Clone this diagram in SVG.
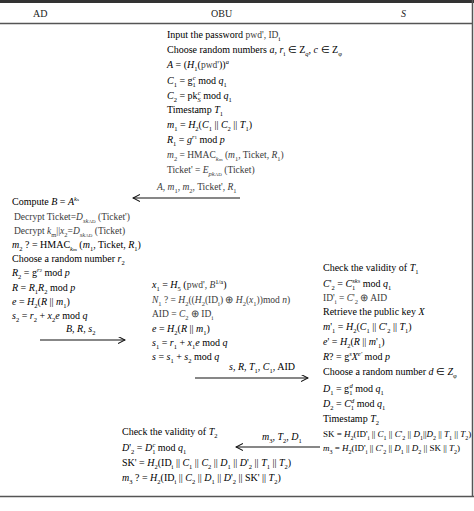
<svg xmlns="http://www.w3.org/2000/svg" width="474" height="511" viewBox="0 0 474 511">
<style>
text { font-family: "Liberation Serif", "Times New Roman", serif; font-size: 10px; fill: #000; }
.l { fill: #3a3a3a; font-size: 9.5px; }
.i { font-style: italic; }
.b { font-size: 6.5px; baseline-shift: -2.5px; }
.p { font-size: 6.5px; baseline-shift: 4px; }
.sm { font-size: 9px; }
.sm .b { font-size: 6px; }
.hdr { font-size: 10px; fill: #222; }
.rule { stroke: #555; stroke-width: 1.5; fill: none; }
.arrow { stroke: #111; stroke-width: 1.1; fill: none; marker-end: url(#ah); }
</style>
<defs>
<marker id="ah" markerWidth="8" markerHeight="8" refX="7" refY="3.5" orient="auto" markerUnits="userSpaceOnUse">
<path d="M0,0 L7,3.5 L0,7" fill="none" stroke="#111" stroke-width="1.1"/>
</marker>
</defs>
<rect x="0" y="0" width="474" height="511" fill="#fff"/>
<g id="frame">
<line x1="0" y1="1.5" x2="474" y2="1.5" stroke="#333" stroke-width="3"/>
<line class="rule" x1="0" y1="23.5" x2="472" y2="23.5"/>
<line class="rule" x1="472.5" y1="0" x2="472.5" y2="497"/>
<line class="rule" x1="0" y1="496.5" x2="474" y2="496.5"/>
<text class="hdr" x="33" y="17">AD</text>
<text class="hdr" x="211" y="17">OBU</text>
<text class="hdr i" x="401" y="17">S</text>
</g>
<g id="obu-login">
<text x="167" y="38">Input the password <tspan class="l">pwd', ID</tspan><tspan class="b">i</tspan></text>
<text x="167" y="53">Choose random numbers  <tspan class="i">a</tspan>, <tspan class="i">r</tspan><tspan class="b">i</tspan> ∈ Z<tspan class="b i">q</tspan>, <tspan class="i">c</tspan> ∈ Z<tspan class="b">φ</tspan></text>
<text x="167" y="68"><tspan class="i">A</tspan> = (<tspan class="i">H</tspan><tspan class="b">1</tspan>(<tspan class="l">pwd'</tspan>))<tspan class="p i">a</tspan></text>
<text x="167" y="84"><tspan class="i">C</tspan><tspan class="b">1</tspan> = g<tspan class="b">1</tspan><tspan class="p i" dx="-3">c</tspan> mod <tspan class="i">q</tspan><tspan class="b">1</tspan></text>
<text x="167" y="99"><tspan class="i">C</tspan><tspan class="b">2</tspan> = pk<tspan class="b i">S</tspan><tspan class="p i" dx="-3">c</tspan> mod <tspan class="i">q</tspan><tspan class="b">1</tspan></text>
<text x="167" y="113">Timestamp  <tspan class="i">T</tspan><tspan class="b">1</tspan></text>
<text x="167" y="128"><tspan class="i">m</tspan><tspan class="b">1</tspan> = <tspan class="i">H</tspan><tspan class="b">2</tspan>(<tspan class="i">C</tspan><tspan class="b">1</tspan> || <tspan class="i">C</tspan><tspan class="b">2</tspan> || <tspan class="i">T</tspan><tspan class="b">1</tspan>)</text>
<text x="167" y="143"><tspan class="i">R</tspan><tspan class="b">1</tspan> = <tspan class="i">g</tspan><tspan class="p i">r</tspan><tspan class="p" style="font-size:5px">1</tspan> mod <tspan class="i">p</tspan></text>
<text class="l" x="167" y="158"><tspan class="i">m</tspan><tspan class="b">2</tspan> = HMAC<tspan class="b i">k</tspan><tspan class="b" style="font-size:5px">m</tspan> (<tspan class="i">m</tspan><tspan class="b">1</tspan>, Ticket, <tspan class="i">R</tspan><tspan class="b">1</tspan>)</text>
<text class="l" x="167" y="173">Ticket' = <tspan class="i">E</tspan><tspan class="b i">pk</tspan><tspan class="b" style="font-size:5px">AD</tspan> (Ticket)</text>
</g>
<g id="ad-response">
<text x="12" y="205">Compute  <tspan class="i">B</tspan> = <tspan class="i">A</tspan><tspan class="p i">k</tspan><tspan class="p" style="font-size:5px">s</tspan></text>
<text class="l" x="14" y="219.5">Decrypt Ticket=<tspan class="i">D</tspan><tspan class="b i">sk</tspan><tspan class="b" style="font-size:5px">AD</tspan> (Ticket')</text>
<text class="l" x="14" y="234">Decrypt <tspan class="i">k</tspan><tspan class="b">m</tspan>||<tspan class="i">x</tspan><tspan class="b">2</tspan>=<tspan class="i">D</tspan><tspan class="b i">sk</tspan><tspan class="b" style="font-size:5px">AD</tspan> (Ticket)</text>
<text x="12" y="248"><tspan class="i">m</tspan><tspan class="b">2</tspan> ? = HMAC<tspan class="b i">k</tspan><tspan class="b" style="font-size:5px">m</tspan> (<tspan class="i">m</tspan><tspan class="b">1</tspan>, Ticket, <tspan class="i">R</tspan><tspan class="b">1</tspan>)</text>
<text x="12" y="262">Choose a random number  <tspan class="i">r</tspan><tspan class="b">2</tspan></text>
<text x="12" y="276"><tspan class="i">R</tspan><tspan class="b">2</tspan> = g<tspan class="p i">r</tspan><tspan class="p" style="font-size:5px">2</tspan> mod <tspan class="i">p</tspan></text>
<text x="12" y="290.5"><tspan class="i">R</tspan> = <tspan class="i">R</tspan><tspan class="b">1</tspan><tspan class="i">R</tspan><tspan class="b">2</tspan> mod <tspan class="i">p</tspan></text>
<text x="12" y="305"><tspan class="i">e</tspan> = <tspan class="i">H</tspan><tspan class="b">2</tspan>(<tspan class="i">R</tspan> || <tspan class="i">m</tspan><tspan class="b">1</tspan>)</text>
<text x="12" y="319"><tspan class="i">s</tspan><tspan class="b">2</tspan> = <tspan class="i">r</tspan><tspan class="b">2</tspan> + <tspan class="i">x</tspan><tspan class="b">2</tspan><tspan class="i">e</tspan>  mod <tspan class="i">q</tspan></text>
</g>
<g id="obu-sign">
<text x="152" y="288"><tspan class="i">x</tspan><tspan class="b">1</tspan> = <tspan class="i">H</tspan><tspan class="b">5</tspan> (<tspan class="l">pwd', </tspan><tspan class="i l">B</tspan><tspan class="p">1/a</tspan>)</text>
<text class="l" x="152" y="303"><tspan class="i">N</tspan><tspan class="b">1</tspan> ? = <tspan class="i">H</tspan><tspan class="b">2</tspan>((<tspan class="i">H</tspan><tspan class="b">2</tspan>(ID<tspan class="b">i</tspan>) ⊕ <tspan class="i">H</tspan><tspan class="b">2</tspan>(<tspan class="i">x</tspan><tspan class="b">1</tspan>))mod  <tspan class="i">n</tspan>)</text>
<text class="l" x="152" y="317">AID = <tspan class="i">C</tspan><tspan class="b">2</tspan> ⊕ ID<tspan class="b">i</tspan></text>
<text x="152" y="332"><tspan class="i">e</tspan> = <tspan class="i">H</tspan><tspan class="b">2</tspan>(<tspan class="i">R</tspan> || <tspan class="i">m</tspan><tspan class="b">1</tspan>)</text>
<text x="152" y="346"><tspan class="i">s</tspan><tspan class="b">1</tspan> = <tspan class="i">r</tspan><tspan class="b">1</tspan> + <tspan class="i">x</tspan><tspan class="b">1</tspan><tspan class="i">e</tspan> mod <tspan class="i">q</tspan></text>
<text x="152" y="360"><tspan class="i">s</tspan> = <tspan class="i">s</tspan><tspan class="b">1</tspan> + <tspan class="i">s</tspan><tspan class="b">2</tspan> mod <tspan class="i">q</tspan></text>
</g>
<g id="s-verify">
<text x="323" y="271">Check the validity of  <tspan class="i">T</tspan><tspan class="b">1</tspan></text>
<text x="323" y="287"><tspan class="i">C</tspan>'<tspan class="b">2</tspan> = <tspan class="i">C</tspan><tspan class="b">1</tspan><tspan class="p i" dx="-3">sk</tspan><tspan class="p" style="font-size:4.5px">S</tspan> mod <tspan class="i">q</tspan><tspan class="b">1</tspan></text>
<text class="l" x="323" y="301">ID'<tspan class="b">i</tspan>  = <tspan class="i">C</tspan>'<tspan class="b">2</tspan> ⊕ AID</text>
<text x="323" y="315">Retrieve the public key  <tspan class="i">X</tspan></text>
<text x="323" y="330"><tspan class="i">m</tspan>'<tspan class="b">1</tspan> = <tspan class="i">H</tspan><tspan class="b">2</tspan>(<tspan class="i">C</tspan><tspan class="b">1</tspan> || <tspan class="i">C</tspan>'<tspan class="b">2</tspan> || <tspan class="i">T</tspan><tspan class="b">1</tspan>)</text>
<text x="323" y="345"><tspan class="i">e</tspan>' = <tspan class="i">H</tspan><tspan class="b">2</tspan>(<tspan class="i">R</tspan> || <tspan class="i">m</tspan>'<tspan class="b">1</tspan>)</text>
<text x="323" y="360"><tspan class="i">R</tspan>? = g<tspan class="p i">s</tspan><tspan class="i">X</tspan><tspan class="p i">e'</tspan> mod <tspan class="i">p</tspan></text>
<text x="323" y="375">Choose a random number  <tspan class="i">d</tspan> ∈ <tspan class="i">Z</tspan><tspan class="b">φ</tspan></text>
<text x="323" y="392"><tspan class="i">D</tspan><tspan class="b">1</tspan> = g<tspan class="b">1</tspan><tspan class="p i" dx="-3">d</tspan> mod <tspan class="i">q</tspan><tspan class="b">1</tspan></text>
<text x="323" y="407"><tspan class="i">D</tspan><tspan class="b">2</tspan> = <tspan class="i">C</tspan><tspan class="b">1</tspan><tspan class="p i" dx="-3">d</tspan> mod <tspan class="i">q</tspan><tspan class="b">1</tspan></text>
<text x="323" y="422">Timestamp  <tspan class="i">T</tspan><tspan class="b">2</tspan></text>
<text class="sm" x="323" y="437">SK = <tspan class="i">H</tspan><tspan class="b">2</tspan>(ID'<tspan class="b">i</tspan> || <tspan class="i">C</tspan><tspan class="b">1</tspan> || <tspan class="i">C</tspan>'<tspan class="b">2</tspan> || <tspan class="i">D</tspan><tspan class="b">1</tspan>||<tspan class="i">D</tspan><tspan class="b">2</tspan> || <tspan class="i">T</tspan><tspan class="b">1</tspan> || <tspan class="i">T</tspan><tspan class="b">2</tspan>)</text>
<text class="sm" x="323" y="451"><tspan class="i">m</tspan><tspan class="b">3</tspan> = <tspan class="i">H</tspan><tspan class="b">2</tspan>(ID'<tspan class="b">i</tspan> || <tspan class="i">C</tspan>'<tspan class="b">2</tspan> || <tspan class="i">D</tspan><tspan class="b">1</tspan> || <tspan class="i">D</tspan><tspan class="b">2</tspan> || SK || <tspan class="i">T</tspan><tspan class="b">2</tspan>)</text>
</g>
<g id="obu-confirm">
<text x="122" y="435">Check the validity of  <tspan class="i">T</tspan><tspan class="b">2</tspan></text>
<text x="122" y="451"><tspan class="i">D</tspan>'<tspan class="b">2</tspan> = <tspan class="i">D</tspan><tspan class="b">1</tspan><tspan class="p i" dx="-3">c</tspan> mod <tspan class="i">q</tspan><tspan class="b">1</tspan></text>
<text x="122" y="466">SK' = <tspan class="i">H</tspan><tspan class="b">2</tspan>(ID<tspan class="b">i</tspan> || <tspan class="i">C</tspan><tspan class="b">1</tspan> || <tspan class="i">C</tspan><tspan class="b">2</tspan> || <tspan class="i">D</tspan><tspan class="b">1</tspan> || <tspan class="i">D</tspan>'<tspan class="b">2</tspan> || <tspan class="i">T</tspan><tspan class="b">1</tspan> || <tspan class="i">T</tspan><tspan class="b">2</tspan>)</text>
<text x="122" y="481"><tspan class="i">m</tspan><tspan class="b">3</tspan> ? = <tspan class="i">H</tspan><tspan class="b">2</tspan>(ID<tspan class="b">i</tspan> || <tspan class="i">C</tspan><tspan class="b">2</tspan> || <tspan class="i">D</tspan><tspan class="b">1</tspan> || <tspan class="i">D</tspan>'<tspan class="b">2</tspan> || SK' || <tspan class="i">T</tspan><tspan class="b">2</tspan>)</text>
</g>
<g id="connectors">
<line class="arrow" x1="240" y1="198" x2="133" y2="198"/>
<text class="l" x="157" y="190"><tspan class="i">A</tspan>, <tspan class="i">m</tspan><tspan class="b">1</tspan>, <tspan class="i">m</tspan><tspan class="b">2</tspan>, Ticket', <tspan class="i">R</tspan><tspan class="b">1</tspan></text>
<line class="arrow" x1="40" y1="340" x2="125" y2="340"/>
<text x="66" y="332"><tspan class="i">B</tspan>, <tspan class="i">R</tspan>, <tspan class="i">s</tspan><tspan class="b">2</tspan></text>
<line class="arrow" x1="195" y1="378" x2="308" y2="378"/>
<text x="229" y="370"><tspan class="i">s</tspan>, <tspan class="i">R</tspan>, <tspan class="i">T</tspan><tspan class="b">1</tspan>, <tspan class="i">C</tspan><tspan class="b">1</tspan>, AID</text>
<line class="arrow" x1="320" y1="447" x2="236" y2="447"/>
<text x="262" y="440"><tspan class="i">m</tspan><tspan class="b">3</tspan>, <tspan class="i">T</tspan><tspan class="b">2</tspan>, <tspan class="i">D</tspan><tspan class="b">1</tspan></text>
</g>
</svg>
